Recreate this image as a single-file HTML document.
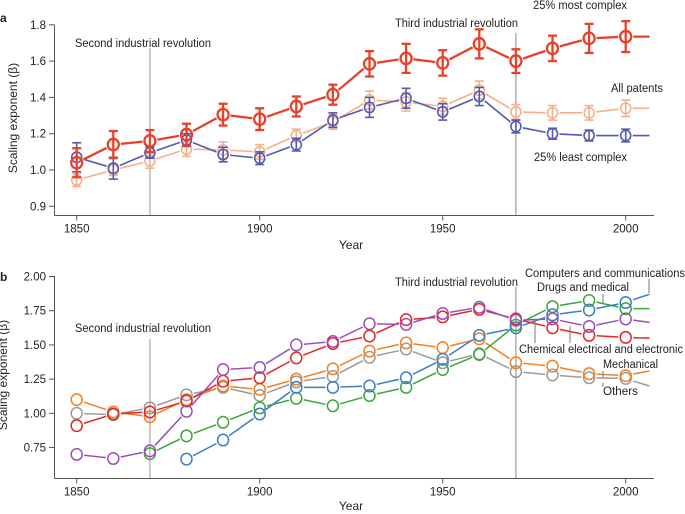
<!DOCTYPE html>
<html><head><meta charset="utf-8"><style>
html,body{margin:0;padding:0;background:#fff;}
svg{display:block;font-family:"Liberation Sans",Arial,sans-serif;}
text{fill:#222;}
</style></head><body>
<svg id="fig" width="685" height="514" viewBox="0 0 685 514"></svg>
<script>
const years = [1850,1860,1870,1880,1890,1900,1910,1920,1930,1940,1950,1960,1970,1980,1990,2000];
const tailYear = 2006.5;
// Panel a
const mostComplex = [1.04,1.14,1.16,1.195,1.305,1.28,1.35,1.415,1.585,1.615,1.59,1.695,1.60,1.67,1.725,1.735];
const mostErr = [0.08,0.075,0.06,0.06,0.06,0.06,0.055,0.055,0.07,0.08,0.07,0.08,0.065,0.07,0.08,0.085];
const allPatents = [0.945,1.0,1.05,1.115,1.11,1.10,1.19,1.265,1.385,1.375,1.35,1.44,1.32,1.315,1.315,1.34];
const allErr = [0.035,0.03,0.04,0.04,0.045,0.04,0.035,0.04,0.05,0.05,0.045,0.05,0.04,0.04,0.04,0.045];
const leastComplex = [1.07,1.01,1.095,1.165,1.085,1.065,1.14,1.275,1.345,1.395,1.32,1.405,1.24,1.20,1.19,1.19];
const leastErr = [0.08,0.06,0.03,0.035,0.04,0.035,0.035,0.04,0.055,0.055,0.045,0.05,0.035,0.03,0.03,0.035];
const tailA = [1.735,1.34,1.19];
const aTickVals = [0.8,1.0,1.2,1.4,1.6,1.8];
const aTickLabels = ["0.9","1.0","1.2","1.4","1.6","1.8"];
// Panel b
const computers = [null,null,null,0.665,0.805,0.995,1.19,1.19,1.20,1.26,1.395,1.57,1.625,1.72,1.755,1.81];
const drugs = [null,null,0.705,0.835,0.935,1.04,1.11,1.055,1.13,1.19,1.32,1.43,1.645,1.78,1.825,1.765];
const chemical = [0.70,0.67,0.725,1.015,1.32,1.335,1.50,1.525,1.655,1.65,1.73,1.775,1.68,1.69,1.635,1.69];
const electrical = [0.91,0.995,1.01,1.09,1.235,1.26,1.405,1.51,1.565,1.685,1.705,1.76,1.69,1.625,1.57,1.555];
const mechanical = [1.10,1.01,0.975,1.10,1.20,1.175,1.25,1.325,1.455,1.515,1.48,1.545,1.37,1.345,1.29,1.275];
const others = [1.0,0.99,1.04,1.135,1.19,1.13,1.23,1.27,1.41,1.47,1.37,1.435,1.305,1.28,1.26,1.255];
const tailB = [1.87,1.765,1.665,1.55,1.31,1.20];
const bTickVals = [0.75,1.0,1.25,1.5,1.75,2.0];
const bTickLabels = ["0.75","1.00","1.25","1.50","1.75","2.00"];
const xTickVals = [1850,1900,1950,2000];

const NS="http://www.w3.org/2000/svg";
const svg=document.getElementById('fig');
function el(tag,attrs,parent){const e=document.createElementNS(NS,tag);for(const k in attrs)e.setAttribute(k,attrs[k]);(parent||svg).appendChild(e);return e;}
const X = y => 76.7 + (y-1850)*3.66;
const Ya = v => 170 - (v-1)*181.5;
const Yb = v => 460/3+260 - (v-1)*(102.6/3)/0.25;

function axes(top,bottom,Y,tv,tl,prefix){
  let g=el('g',{});
  
  
  el('line',{x1:54.5,y1:top,x2:54.5,y2:bottom,stroke:'#555','stroke-width':1},g);
  el('line',{x1:54.5,y1:bottom,x2:654,y2:bottom,stroke:'#555','stroke-width':1},g);
  tv.forEach((v,i)=>{
    el('line',{x1:49,y1:Y(v),x2:54.5,y2:Y(v),stroke:'#555'},g);
    const t=el('text',{x:46,y:Y(v)+4,'text-anchor':'end','font-size':11.5},g);
    t.textContent=tl[i];
    
    
  });
  xTickVals.forEach(v=>{
    el('line',{x1:X(v),y1:bottom,x2:X(v),y2:bottom+5,stroke:'#555'},g);
    const t=el('text',{x:X(v),y:bottom+17,'text-anchor':'middle','font-size':11.5},g);
    t.textContent=String(v);
    
    
  });
}
function label(txt,x,y,name,size,anchor,w){
  const t=el('text',{x:x,y:y,'font-size':size||11.5,'text-anchor':anchor||'start'});
  if(w){t.setAttribute('textLength',w);t.setAttribute('lengthAdjust','spacingAndGlyphs');}
  t.textContent=txt;
  
  
  return t;
}
function seg(g,x1,y1,x2,y2,r,color,w){
  const dx=x2-x1,dy=y2-y1,d=Math.hypot(dx,dy);
  if(d<2*r+1)return;
  const ux=dx/d,uy=dy/d;
  el('line',{x1:x1+ux*(r+2),y1:y1+uy*(r+2),x2:x2-ux*(r+2),y2:y2-uy*(r+2),stroke:color,'stroke-width':w},g);
}
function series(vals,err,tail,Y,color,w,name,r){
  const g=el('g',{});
  
  
  let prev=null;
  vals.forEach((v,i)=>{
    if(v==null)return;
    const x=X(years[i]),y=Y(v);
    if(prev)seg(g,prev[0],prev[1],x,y,r,color,w);
    prev=[x,y];
  });
  if(tail!=null&&prev)el('line',{x1:prev[0]+r+2,y1:Y(vals[vals.length-1])+(Y(tail)-Y(vals[vals.length-1]))*0.35,x2:X(tailYear),y2:Y(tail),stroke:color,'stroke-width':w},g);
  vals.forEach((v,i)=>{
    if(v==null)return;
    const x=X(years[i]),y=Y(v);
    if(err){
      const e=err[i];
      el('line',{x1:x,y1:Y(v+e),x2:x,y2:Y(v-e),stroke:color,'stroke-width':w},g);
      el('line',{x1:x-4.5,y1:Y(v+e),x2:x+4.5,y2:Y(v+e),stroke:color,'stroke-width':w},g);
      el('line',{x1:x-4.5,y1:Y(v-e),x2:x+4.5,y2:Y(v-e),stroke:color,'stroke-width':w},g);
    }
    const c=el('ellipse',{cx:x,cy:y,rx:r,ry:r*1.05,fill:'none',stroke:color,'stroke-width':w},g);
    
    
  });
}

// ---- Panel a ----
label('a',0,22,'panel-a-label',12).setAttribute('font-weight','bold');
el('line',{x1:X(1870),y1:48,x2:X(1870),y2:215,stroke:'#bbb','stroke-width':1.5});
el('line',{x1:X(1970),y1:33,x2:X(1970),y2:215,stroke:'#888','stroke-width':1});
axes(25,215.5,Ya,aTickVals,aTickLabels,'panel-a');
series(allPatents,allErr,tailA[1],Ya,'#f5b08a',1.6,'all-patents-series',5);
series(leastComplex,leastErr,tailA[2],Ya,'#5559b0',1.6,'least-complex-series',5);
series(mostComplex,mostErr,tailA[0],Ya,'#e8412a',2.3,'most-complex-series',5.5);
label('Second industrial revolution',75,47,'second-revolution-label-a',11.5,'start',136);
label('Third industrial revolution',395,27,'third-revolution-label-a',11.5,'start',123);
label('25% most complex',533,9,'most-complex-label',11.5,'start',94);
label('All patents',611,92,'all-patents-label',11.5,'start',52);
label('25% least complex',534,161,'least-complex-label',11.5,'start',93);
label('Year',351,249,'panel-a-x-title',12,'middle');
let ta=label('Scaling exponent (β)',0,0,'panel-a-y-title',12,'middle');
ta.setAttribute('transform','translate(17,118) rotate(-90)');

// ---- Panel b ----
label('b',0,281,'panel-b-label',12).setAttribute('font-weight','bold');
el('line',{x1:X(1870),y1:339,x2:X(1870),y2:478,stroke:'#bbb','stroke-width':1.5});
el('line',{x1:X(1970),y1:287,x2:X(1970),y2:478,stroke:'#888','stroke-width':1});
axes(276,478.5,Yb,bTickVals,bTickLabels,'panel-b');
series(others,null,tailB[5],Yb,'#9a9a9a',1.5,'others-series',5.5);
series(mechanical,null,tailB[4],Yb,'#f47f20',1.5,'mechanical-series',5.5);
series(drugs,null,tailB[1],Yb,'#3aa63a',1.5,'drugs-medical-series',5.5);
series(computers,null,tailB[0],Yb,'#3a7fc1',1.5,'computers-series',5.5);
series(electrical,null,tailB[3],Yb,'#e3262a',1.5,'electrical-series',5.5);
series(chemical,null,tailB[2],Yb,'#9b4fb5',1.5,'chemical-series',5.5);
// leaders
[[649,279,649,293],[603,294,603,303],[535,320,535,343],[570,326,570,343],[603,371,603,378],[603,383,603,387]].forEach(l=>{
  const ln=el('line',{x1:l[0],y1:l[1],x2:l[2],y2:l[3],stroke:'#777','stroke-width':1});
  
  
});
label('Second industrial revolution',75,332,'second-revolution-label-b',11.5,'start',136);
label('Third industrial revolution',395,286,'third-revolution-label-b',11.5,'start',123);
label('Computers and communications',525,277,'computers-label',11.5,'start',160);
label('Drugs and medical',537,291,'drugs-medical-label',11.5,'start',92);
label('Chemical electrical and electronic',519,353,'chemical-electrical-label',11.5,'start',164);
label('Mechanical',603,368,'mechanical-label',11.5,'start',55);
label('Others',603,395,'others-label',11.5,'start',35);
label('Year',351,510,'panel-b-x-title',12,'middle');
let tb=label('Scaling exponent (β)',0,0,'panel-b-y-title',12,'middle');
tb.setAttribute('transform','translate(7,375) rotate(-90)');
</script>
</body></html>
